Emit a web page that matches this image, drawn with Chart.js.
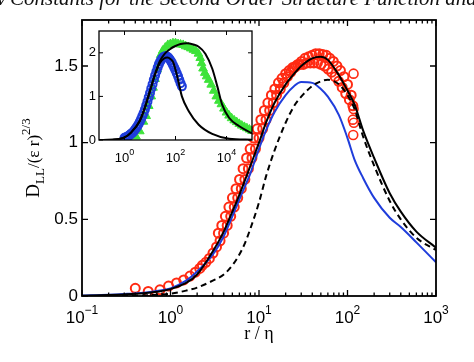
<!DOCTYPE html>
<html>
<head>
<meta charset="utf-8">
<script src="https://cdn.jsdelivr.net/npm/chart.js@4.4.1/dist/chart.umd.min.js"></script>
<style>
  body { margin: 0; background: #fff; overflow: hidden; }
  #wrap { position: relative; width: 474px; height: 362px; overflow: hidden; }
  #main { position: absolute; left: 0; top: 0; }
  #inset { position: absolute; left: 70px; top: 25px; }
  .cap { position: absolute; top: -12px; font: italic 21px "Liberation Serif", serif; line-height: 21px; white-space: nowrap; color: #111; }
  #capA { right: 468px; }
  #capB { left: 10px; }
</style>
</head>
<body>
<div id="wrap">
  <canvas id="main" width="474" height="362"></canvas>
  <canvas id="inset" width="190" height="145"></canvas>
  <div class="cap" id="capA">Kolmogorov</div>
  <div class="cap" id="capB">Constants for the Second Order Structure Function and</div>
</div>
<script>
// main plot : D_LL / (eps r)^(2/3) against r / eta
const fitR = [ 0.1, 0.2, 0.3, 0.5, 0.7, 1, 1.5, 2, 3, 4, 5, 6, 7, 8, 10, 12, 15, 20, 25, 30, 40, 50, 60, 80, 100, 120, 150, 200, 300, 400, 600, 1000 ]
const blackFit = [ 0.002, 0.006, 0.010, 0.018, 0.028, 0.045, 0.085, 0.14, 0.29, 0.42, 0.55, 0.66, 0.76, 0.85, 1.00, 1.13, 1.26, 1.38, 1.45, 1.50, 1.55, 1.56, 1.54, 1.44, 1.34, 1.25, 1.08, 0.90, 0.67, 0.55, 0.42, 0.315 ]
const dashedFit = [ 0, 0.001, 0.002, 0.004, 0.008, 0.015, 0.035, 0.055, 0.10, 0.14, 0.20, 0.27, 0.35, 0.44, 0.61, 0.78, 0.95, 1.13, 1.24, 1.30, 1.37, 1.40, 1.41, 1.38, 1.31, 1.22, 1.04, 0.85, 0.62, 0.50, 0.38, 0.30 ]
const blueFit = [ 0.003, 0.008, 0.013, 0.022, 0.033, 0.05, 0.10, 0.16, 0.27, 0.39, 0.52, 0.63, 0.72, 0.80, 0.96, 1.08, 1.20, 1.31, 1.37, 1.395, 1.39, 1.35, 1.30, 1.18, 1.03, 0.89, 0.77, 0.64, 0.51, 0.45, 0.35, 0.22 ]

const redR = [ 0.40, 0.56, 0.76, 0.95, 1.17, 1.41, 1.66, 1.91, 2.14, 2.29, 2.51, 2.75, 3.02, 3.31, 3.63, 3.98, 4.37, 4.79, 5.25, 5.75, 6.31, 6.92, 7.59, 8.32, 9.12, 10.0, 11.0, 12.0, 13.2, 14.5, 15.8, 17.4, 19.1, 20.9, 22.9, 25.1, 27.5, 30.2, 33.1, 36.3, 39.8, 43.7, 47.9, 52.5, 57.5, 63.1, 69.2, 75.9, 83.2, 91.2, 100, 110 ]
const redD = [ 0.05, 0.03, 0.04, 0.065, 0.085, 0.105, 0.13, 0.155, 0.18, 0.20, 0.22, 0.245, 0.28, 0.32, 0.36, 0.41, 0.46, 0.52, 0.58, 0.64, 0.70, 0.76, 0.83, 0.90, 0.96, 1.03, 1.09, 1.15, 1.21, 1.26, 1.31, 1.35, 1.39, 1.43, 1.46, 1.49, 1.51, 1.53, 1.55, 1.56, 1.57, 1.58, 1.58, 1.575, 1.57, 1.55, 1.53, 1.50, 1.47, 1.43, 1.38, 1.31 ]
const red2R = [ 3.47, 3.80, 4.17, 4.57, 5.01, 5.50, 6.03, 6.61, 7.24, 7.94, 8.71, 9.55, 10.5, 11.5, 12.6, 13.8, 15.1, 16.6, 18.2, 20.0, 21.9, 24.0, 26.3, 28.8, 31.6, 34.7, 38.0, 41.7, 45.7, 50.1, 55.0, 60.3, 66.1, 72.4, 79.4, 87.1, 95.5, 105, 115 ]
const red2D = [ 0.41, 0.46, 0.52, 0.58, 0.64, 0.70, 0.76, 0.83, 0.90, 0.96, 1.03, 1.09, 1.15, 1.21, 1.26, 1.31, 1.35, 1.39, 1.42, 1.45, 1.47, 1.49, 1.50, 1.51, 1.51, 1.52, 1.52, 1.52, 1.52, 1.51, 1.50, 1.48, 1.46, 1.43, 1.40, 1.36, 1.32, 1.28, 1.24 ]
const redTailR = [ 117, 117, 115, 118, 116 ]
const redTailD = [ 1.45, 1.22, 1.15, 1.13, 1.05 ]

const mainXTicks = [ 0.1, 1, 10, 100, 1000 ]
const mainXExp = [ '\u22121', '0', '1', '2', '3' ]
const mainYTicks = [ 0, 0.5, 1, 1.5 ]
const mainYLabels = [ '0', '0.5', '1', '1.5' ]

// inset
const narrowR = [ 0.1, 0.4, 1, 1.8, 3.9, 6.2, 9.8, 15.5, 24, 35.5, 47.9, 63.1, 81.3, 112, 141, 178, 331, 813, 2750, 12600, 100000 ]
const narrowD = [ 0, 0.01, 0.06, 0.17, 0.43, 0.73, 1.11, 1.49, 1.76, 1.87, 1.89, 1.86, 1.78, 1.5, 1.25, 1.0, 0.66, 0.35, 0.14, 0.03, 0.005 ]
const wideR = [ 0.1, 0.4, 1, 1.8, 3.9, 6.2, 9.8, 15.5, 24, 38, 63, 95, 158, 282, 501, 813, 1480, 2750, 4370, 6760, 12600, 30900, 100000 ]
const wideD = [ 0, 0.01, 0.06, 0.17, 0.43, 0.73, 1.11, 1.50, 1.80, 1.98, 2.09, 2.15, 2.2, 2.22, 2.19, 2.14, 1.98, 1.64, 1.23, 0.81, 0.51, 0.32, 0.15 ]
const blueR = [ 1, 1.12, 1.26, 1.41, 1.58, 1.78, 2.0, 2.24, 2.51, 2.82, 3.16, 3.55, 3.98, 4.47, 5.01, 5.62, 6.31, 7.08, 7.94, 8.91, 10, 11.2, 12.6, 14.1, 15.8, 17.8, 20.0, 22.4, 25.1, 28.2, 31.6, 35.5, 39.8, 44.7, 50.1, 56.2, 63.1, 70.8, 79.4, 89.1, 100, 112, 126, 141, 158, 178 ]
const blueD = [ 0.05, 0.06, 0.075, 0.09, 0.11, 0.14, 0.16, 0.19, 0.23, 0.27, 0.31, 0.36, 0.42, 0.48, 0.55, 0.62, 0.70, 0.79, 0.88, 0.98, 1.08, 1.18, 1.28, 1.38, 1.48, 1.57, 1.66, 1.74, 1.80, 1.85, 1.89, 1.91, 1.92, 1.92, 1.90, 1.87, 1.83, 1.78, 1.72, 1.66, 1.60, 1.53, 1.46, 1.38, 1.30, 1.23 ]
const greenR = [ 2.82, 3.98, 5.5, 7.08, 8.91, 11.2, 13.2, 15.8, 19.1, 22.4, 26.3, 31.6, 39.8, 50.1, 63.1, 79.4, 100, 126, 158, 200, 251, 316, 398, 501, 631, 794, 933, 1050, 1200, 1410, 1660, 2000, 2510, 3160, 3980, 5010, 6310, 7940, 10000, 12600, 15800, 20000, 25100, 31600, 39800, 50100, 63100, 79400, 100000 ]
const greenD = [ 0.08, 0.2, 0.42, 0.55, 0.78, 1.0, 1.2, 1.4, 1.62, 1.8, 1.95, 2.05, 2.12, 2.18, 2.2, 2.22, 2.22, 2.2, 2.19, 2.18, 2.15, 2.13, 2.1, 2.07, 2.04, 1.98, 1.88, 1.76, 1.64, 1.54, 1.46, 1.38, 1.27, 1.13, 1.0, 0.9, 0.82, 0.72, 0.63, 0.56, 0.5, 0.45, 0.41, 0.37, 0.33, 0.3, 0.27, 0.24, 0.21 ]

const insetXTicks = [ 1, 100, 10000 ]
const insetXExp = [ '0', '2', '4' ]
const insetYTicks = [ 0, 1, 2 ]

const RED = '#ff2a12'
const BLUE = '#1f3ddb'
const GREEN = '#3ee33a'
const SANS = '"Liberation Sans", Arial, sans-serif'
const SERIF = '"Liberation Serif", "Times New Roman", serif'

const pts = ( xs, ys ) => xs.map( ( x, i ) => ( { x, y: ys[ i ] } ) )

function line( data, color, order, dash ) {
  return {
    data, showLine: true, borderColor: color, borderWidth: 2, pointRadius: 0,
    borderDash: dash || [], cubicInterpolationMode: 'monotone', order
  }
}

function marks( data, color, order, style, radius, width ) {
  const filled = style === 'triangle'
  return {
    data, showLine: false, pointStyle: style, pointRadius: radius,
    borderColor: color, backgroundColor: filled ? color : 'rgba(0,0,0,0)',
    borderWidth: width, order
  }
}

function drawPow( ctx, x, y, exp, big, small, rise ) {
  ctx.font = big
  const w1 = ctx.measureText( '10' ).width
  ctx.font = small
  const w2 = ctx.measureText( exp ).width
  const left = x - ( w1 + w2 ) / 2
  ctx.textAlign = 'left'
  ctx.textBaseline = 'alphabetic'
  ctx.font = big
  ctx.fillText( '10', left, y )
  ctx.font = small
  ctx.fillText( exp, left + w1, y - rise )
}

function tick( ctx, x0, y0, x1, y1 ) {
  ctx.moveTo( x0, y0 )
  ctx.lineTo( x1, y1 )
}

const mainAxes = {
  id: 'mainAxes',
  afterDraw( chart ) {
    const { ctx, chartArea: a, scales: { x, y } } = chart
    ctx.save()
    ctx.strokeStyle = '#000'
    ctx.fillStyle = '#000'
    ctx.lineWidth = 1.3
    ctx.beginPath()
    mainXTicks.forEach( ( v, i ) => {
      const px = x.getPixelForValue( v )
      tick( ctx, px, a.bottom, px, a.bottom - 6 )
      tick( ctx, px, a.top, px, a.top + 6 )
      if ( i < mainXTicks.length - 1 ) {
        for ( let m = 2; m < 10; m++ ) {
          const mx = x.getPixelForValue( v * m )
          tick( ctx, mx, a.bottom, mx, a.bottom - 3.5 )
          tick( ctx, mx, a.top, mx, a.top + 3.5 )
        }
      }
    } )
    mainYTicks.forEach( v => {
      const py = y.getPixelForValue( v )
      tick( ctx, a.left, py, a.left + 6, py )
      tick( ctx, a.right, py, a.right - 6, py )
    } )
    ctx.stroke()
    ctx.lineWidth = 1.8
    ctx.strokeRect( a.left, a.top, a.right - a.left, a.bottom - a.top )

    // tick labels
    mainXTicks.forEach( ( v, i ) => {
      drawPow( ctx, x.getPixelForValue( v ), a.bottom + 27, mainXExp[ i ], '17px ' + SANS, '12px ' + SANS, 9 )
    } )
    ctx.font = '17px ' + SANS
    ctx.textAlign = 'right'
    ctx.textBaseline = 'middle'
    mainYTicks.forEach( ( v, i ) => {
      ctx.fillText( mainYLabels[ i ], a.left - 4, y.getPixelForValue( v ) )
    } )

    // axis titles
    ctx.font = '18px ' + SERIF
    ctx.textAlign = 'center'
    ctx.textBaseline = 'middle'
    ctx.fillText( 'r / \u03b7', ( a.left + a.right ) / 2, a.bottom + 38 )

    ctx.translate( 33, 158 )
    ctx.rotate( -Math.PI / 2 )
    const parts = [
      [ 'D', '19px ' + SERIF, 0 ],
      [ 'LL', '13px ' + SERIF, 5 ],
      [ '/(\u03b5 r)', '17px ' + SERIF, 0 ],
      [ '2/3', '13px ' + SERIF, -9 ]
    ]
    let total = 0
    parts.forEach( p => { ctx.font = p[ 1 ]; total += ctx.measureText( p[ 0 ] ).width } )
    let cx = -total / 2
    ctx.textAlign = 'left'
    ctx.textBaseline = 'alphabetic'
    parts.forEach( p => {
      ctx.font = p[ 1 ]
      ctx.fillText( p[ 0 ], cx, 6 + p[ 2 ] )
      cx += ctx.measureText( p[ 0 ] ).width
    } )
    ctx.restore()
  }
}

const insetAxes = {
  id: 'insetAxes',
  beforeDraw( chart ) {
    const { ctx, chartArea: a } = chart
    ctx.save()
    ctx.fillStyle = '#fff'
    ctx.fillRect( a.left, a.top, a.right - a.left, a.bottom - a.top )
    ctx.restore()
  },
  afterDraw( chart ) {
    const { ctx, chartArea: a, scales: { x, y } } = chart
    ctx.save()
    ctx.strokeStyle = '#000'
    ctx.fillStyle = '#000'
    ctx.lineWidth = 1
    ctx.beginPath()
    insetXTicks.forEach( v => {
      const px = x.getPixelForValue( v )
      tick( ctx, px, a.bottom, px, a.bottom - 4 )
      tick( ctx, px, a.top, px, a.top + 4 )
    } )
    insetYTicks.forEach( v => {
      const py = y.getPixelForValue( v )
      tick( ctx, a.left, py, a.left + 4, py )
      tick( ctx, a.right, py, a.right - 4, py )
    } )
    ctx.stroke()
    ctx.lineWidth = 1.3
    ctx.strokeRect( a.left, a.top, a.right - a.left, a.bottom - a.top )

    insetXTicks.forEach( ( v, i ) => {
      drawPow( ctx, x.getPixelForValue( v ), a.bottom + 22, insetXExp[ i ], '13px ' + SANS, '9px ' + SANS, 7 )
    } )
    ctx.font = '13px ' + SANS
    ctx.textAlign = 'right'
    ctx.textBaseline = 'middle'
    insetYTicks.forEach( v => {
      ctx.fillText( String( v ), a.left - 3, y.getPixelForValue( v ) )
    } )
    ctx.restore()
  }
}

const hidden = { display: false }

new Chart( document.getElementById( 'main' ), {
  type: 'scatter',
  data: {
    datasets: [
      line( pts( fitR, blackFit ), '#000', 1 ),
      line( pts( fitR, dashedFit ), '#000', 2, [ 6, 4 ] ),
      line( pts( fitR, blueFit ), BLUE, 3 ),
      marks( pts( redR, redD ), RED, 5, 'circle', 4.5, 2 ),
      marks( pts( red2R, red2D ), RED, 6, 'circle', 4.5, 2 ),
      marks( pts( redTailR, redTailD ), RED, 7, 'circle', 4.5, 1.6 )
    ]
  },
  options: {
    responsive: false,
    animation: false,
    devicePixelRatio: 1,
    layout: { padding: { left: 82, top: 20, right: 38, bottom: 66 } },
    plugins: { legend: hidden, tooltip: { enabled: false } },
    scales: {
      x: { type: 'logarithmic', min: 0.1, max: 1000, display: false },
      y: { type: 'linear', min: 0, max: 1.8, display: false }
    }
  },
  plugins: [ mainAxes ]
} )

new Chart( document.getElementById( 'inset' ), {
  type: 'scatter',
  data: {
    datasets: [
      line( pts( narrowR, narrowD ), '#000', 1 ),
      line( pts( wideR, wideD ), '#000', 2 ),
      marks( pts( blueR, blueD ), BLUE, 4, 'circle', 4, 2 ),
      marks( pts( greenR, greenD ), GREEN, 5, 'triangle', 5, 1 )
    ]
  },
  options: {
    responsive: false,
    animation: false,
    devicePixelRatio: 1,
    layout: { padding: { left: 29, top: 4, right: 8, bottom: 30 } },
    plugins: { legend: hidden, tooltip: { enabled: false } },
    scales: {
      x: { type: 'logarithmic', min: 0.1, max: 100000, display: false },
      y: { type: 'linear', min: 0, max: 2.5, display: false }
    }
  },
  plugins: [ insetAxes ]
} )
</script>
</body>
</html>
